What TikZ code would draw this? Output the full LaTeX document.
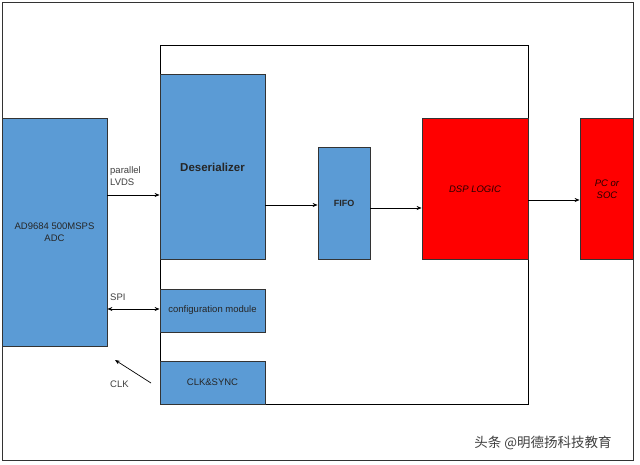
\documentclass[tikz,border=0pt]{standalone}
\usepackage{fontspec}
\setmainfont{Liberation Sans}
\newfontfamily\cjk{Noto Sans CJK SC}
\usetikzlibrary{arrows.meta}
\definecolor{bblue}{HTML}{5B9BD5}
\begin{document}
\begin{tikzpicture}[x=1pt,y=-1pt,
  blk/.style={draw=black!80,line width=0.8pt,fill=bblue,inner sep=0pt,text=black!85,font=\fontsize{9.5}{12}\selectfont,align=center},
  rblk/.style={draw=black!80,line width=0.8pt,fill=red,inner sep=0pt},
  rtxt/.style={text=black!85!red,font=\fontsize{9.5}{12}\selectfont\itshape,align=center},
  arr/.style={-{Stealth[length=5pt,width=4pt]},line width=0.7pt},
  lbl/.style={font=\fontsize{9.5}{12}\selectfont,text=black!75,anchor=west,align=left,inner sep=0pt}]
\useasboundingbox (0,0) rectangle (640,465);
\fill[white] (0,0) rectangle (640,465);
\draw[line width=0.8pt,black!80] (2,2) rectangle (633,460);
\draw[line width=0.8pt,black] (160,45) rectangle (528,404);
\node[blk,minimum width=105pt,minimum height=228pt] (adc) at (54.5,232) {AD9684 500MSPS\\ADC};
\node[blk,minimum width=105pt,minimum height=185pt] (des) at (212.5,166.5) {};
\node[font=\fontsize{11.5}{13}\selectfont\bfseries,text=black!85] (dest) at (212.5,167) {Deserializer};
\node[blk,minimum width=52pt,minimum height=112pt,font=\fontsize{9}{11}\selectfont\bfseries] (fifo) at (344,203) {FIFO};
\node[rblk,minimum width=106pt,minimum height=141pt] (dsp) at (475,188.5) {};
\node[rtxt] (dspt) at (475,189) {DSP LOGIC};
\node[rblk,minimum width=53pt,minimum height=141pt] (pc) at (606.5,188.5) {};
\node[rtxt] (pct) at (607,189) {PC or\\SOC};
\node[blk,minimum width=105pt,minimum height=43pt] (cfg) at (212.5,310.5) {configuration module};
\node[blk,minimum width=105pt,minimum height=43pt] (clk) at (212.5,382.5) {CLK\&SYNC};
\draw[arr] (adc.east|-0,195) -- (des.west|-0,195);
\draw[arr] (des.east|-0,205) -- (fifo.west|-0,205);
\draw[arr] (fifo.east|-0,208) -- (dsp.west|-0,208);
\draw[arr] (dsp.east|-0,200) -- (pc.west|-0,200);
\draw[{Stealth[length=5pt,width=4pt]}-{Stealth[length=5pt,width=4pt]},line width=0.7pt] (adc.east|-0,309) -- (cfg.west|-0,309);
\coordinate (ct) at (151,383);
\coordinate (ch) at (115,360);
\draw[arr] (ct) -- (ch);
\node[lbl] (l1) at (110,176) {parallel\\LVDS};
\node[lbl] (l2) at (110,297) {SPI};
\node[lbl] (l3) at (110,384) {CLK};
\node[font=\cjk\fontsize{13.5}{15}\selectfont,text=black!75] (wm) at (543,443) {头条 @明德扬科技教育};
\end{tikzpicture}
\end{document}
